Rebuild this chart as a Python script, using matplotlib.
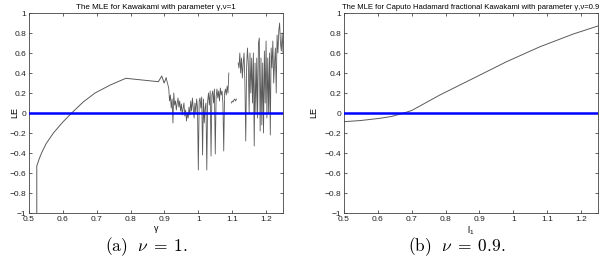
import numpy as np
import matplotlib
matplotlib.use("Agg")
import matplotlib.pyplot as plt

plt.rcParams['font.family'] = ['Liberation Sans', 'DejaVu Sans']
plt.rcParams['mathtext.fontset'] = 'cm'

nan = np.nan

# Left panel: smooth part (gamma, LE)
left_smooth_x = [0.523, 0.523, 0.530, 0.537, 0.550, 0.572, 0.600, 0.626, 0.660,
                 0.695, 0.740, 0.786, 0.882, 0.892, 0.899, 0.905]
left_smooth_y = [-1.0, -0.53, -0.46, -0.40, -0.31, -0.20, -0.09, 0.0, 0.11,
                 0.20, 0.28, 0.347, 0.313, 0.37, 0.30, 0.35]

# Left panel: irregular part, gamma from 0.9125 to 1.25 (step 0.0025)
left_noise_y = [
    0.25, 0.12, 0.18, 0.05, 0.14, -0.10, 0.20, 0.08, 0.12, 0.03,
    0.10, 0.15, 0.06, 0.12, 0.02, 0.09, -0.02, 0.05, 0.10, -0.03,
    0.03, -0.08, 0.00, -0.05, 0.06, -0.02, 0.12, 0.02, 0.15, 0.05,
    -0.05, 0.10, 0.00, 0.14, 0.05, -0.57, 0.12, 0.15, 0.05, 0.16,
    -0.42, 0.14, -0.10, 0.05, 0.10, -0.57, 0.12, 0.20, 0.08, 0.22,
    -0.43, 0.18, 0.22, 0.10, 0.24, -0.41, 0.16, 0.24, 0.15, 0.22,
    0.12, 0.25, 0.18, 0.22, 0.10, -0.38, 0.20, 0.24, 0.18, 0.27,
    0.20, 0.40, nan, nan, 0.10, 0.12, 0.11, 0.13, 0.14, 0.12,
    0.14, nan, 0.50, 0.45, 0.60, 0.40, 0.55, 0.35, 0.50, 0.60,
    0.30, -0.28, 0.45, 0.65, 0.50, 0.00, 0.60, 0.20, 0.55, 0.10,
    0.60, -0.33, 0.50, 0.00, 0.55, -0.05, 0.70, 0.75, -0.18, 0.55,
    -0.12, 0.50, -0.20, 0.62, 0.10, 0.72, -0.05, 0.55, 0.00, 0.60,
    -0.22, 0.65, 0.45, 0.72, 0.30, 0.50, 0.65, 0.20, 0.78, 0.60,
    0.82, 0.90, 0.70, 0.62, 0.80, 0.60,
]
left_noise_x = np.linspace(0.9125, 1.25, len(left_noise_y))

# Right panel (l1, LE)
right_x = [0.500, 0.550, 0.606, 0.640, 0.670, 0.700, 0.783, 0.882, 0.980, 1.079, 1.177, 1.250]
right_y = [-0.087, -0.075, -0.053, -0.035, -0.007, 0.025, 0.18, 0.347, 0.513, 0.663, 0.79, 0.87]

titles = ["The MLE for Kawakami with parameter \u03b3,\u03bd=1",
          "The MLE for Caputo Hadamard fractional Kawakami with parameter \u03b3,\u03bd=0.9"]
title_sizes = [5.8, 5.5]
xlabels = ["\u03b3", "$\\mathregular{l_1}$"]
captions = [r"$\mathrm{(a)}\ \ \nu\;=\;1.$", r"$\mathrm{(b)}\ \ \nu\;=\;0.9.$"]
xticks = [0.5, 0.6, 0.7, 0.8, 0.9, 1.0, 1.1, 1.2]
xticklabels = ["0.5", "0.6", "0.7", "0.8", "0.9", "1", "1.1", "1.2"]
yticks = [-1, -0.8, -0.6, -0.4, -0.2, 0, 0.2, 0.4, 0.6, 0.8, 1]
yticklabels = ["\u22121", "\u22120.8", "\u22120.6", "\u22120.4", "\u22120.2", "0",
               "0.2", "0.4", "0.6", "0.8", "1"]

fig = plt.figure(figsize=(6.02, 2.58), dpi=100)
axL = fig.add_axes([29/602, 1-213/258, 254/602, 200/258])
axR = fig.add_axes([344/602, 1-213/258, 254/602, 200/258])

line_col = '#5a5a5a'
axL.plot(left_smooth_x, left_smooth_y, color=line_col, lw=0.7)
axL.plot(np.concatenate([[left_smooth_x[-1]], left_noise_x]),
         np.concatenate([[left_smooth_y[-1]], left_noise_y]), color=line_col, lw=0.6)
axR.plot(right_x, right_y, color=line_col, lw=0.7)

ylabel_x = [-0.04, -0.1]
for i, ax in enumerate([axL, axR]):
    ax.axhline(0, color='#0000ff', lw=1.8, zorder=3)
    ax.set_xlim(0.5, 1.25)
    ax.set_ylim(-1, 1)
    ax.set_xticks(xticks)
    ax.set_xticklabels(xticklabels)
    ax.set_yticks(yticks)
    ax.set_yticklabels(yticklabels)
    ax.tick_params(direction='in', top=True, right=True, labelsize=6,
                   length=2.5, width=0.5, pad=2, colors='#222222')
    for s in ax.spines.values():
        s.set_linewidth(0.6)
        s.set_color('#444444')
    ax.set_title(titles[i], fontsize=title_sizes[i], pad=3)
    ax.set_xlabel(xlabels[i], fontsize=6.5, labelpad=1)
    ax.set_ylabel("LE", fontsize=6.5)
    ax.yaxis.set_label_coords(ylabel_x[i], 0.5)

fig.text(147/602, 1-247/258, captions[0], ha='center', va='center', fontsize=12.5)
fig.text(457/602, 1-247/258, captions[1], ha='center', va='center', fontsize=12.5)

fig.savefig("out.png", dpi=100)
